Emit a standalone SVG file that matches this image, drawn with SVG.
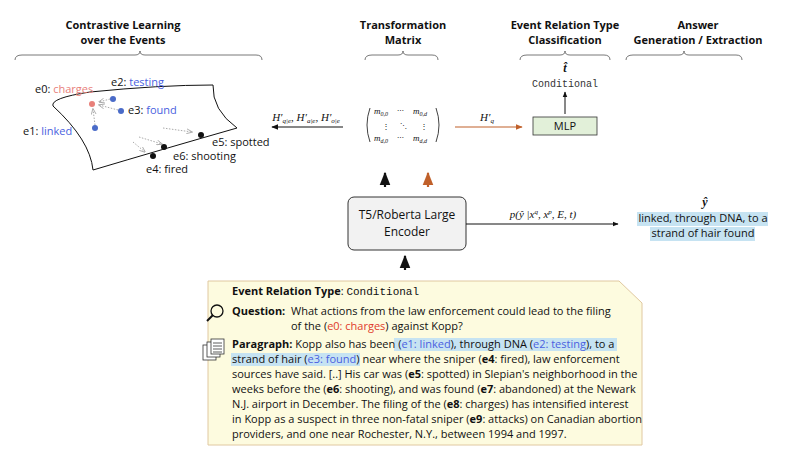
<svg xmlns="http://www.w3.org/2000/svg" width="806" height="454" viewBox="0 0 806 454">
<defs>
<style>
text{font-family:"Open Sans","Liberation Sans",sans-serif;font-size:11px;fill:#111}
.h{font-weight:bold;font-size:11px;text-anchor:middle}
.m{font-family:"Liberation Serif",serif;font-style:italic}
.mono{font-family:"Liberation Mono",monospace}
.br{fill:none;stroke:#555;stroke-width:0.8}
.blue{fill:#4a5fe0}
.red{fill:#e03a2a}
.b{font-weight:bold}
.hl{fill:#c6e3f2}
.dot{stroke:#aaa;stroke-width:1;stroke-dasharray:1.5,1.5;fill:none;marker-end:url(#ga)}
</style>
<marker id="ka" viewBox="0 0 10 10" refX="9" refY="5" markerWidth="6" markerHeight="6" orient="auto"><path d="M0,1L10,5L0,9z" fill="#111"/></marker>
<marker id="oa" viewBox="0 0 10 10" refX="9" refY="5" markerWidth="6" markerHeight="6" orient="auto"><path d="M0,1L10,5L0,9z" fill="#c0602a"/></marker>
<marker id="ga" viewBox="0 0 10 10" refX="9" refY="5" markerWidth="6" markerHeight="6" orient="auto"><path d="M0,1L10,5L0,9" fill="none" stroke="#aaa" stroke-width="1.5"/></marker>
</defs>
<rect width="806" height="454" fill="#fff"/>
<g id="headings">
<text class="h" x="123" y="29">Contrastive Learning</text>
<text class="h" x="123" y="44">over the Events</text>
<path class="br" d="M15,60 Q15,55 22,55 L135,55 Q140,55 140,51 Q140,55 145,55 L256,55 Q262,55 262,60"/>
<text class="h" x="403" y="29">Transformation</text>
<text class="h" x="403" y="44">Matrix</text>
<path class="br" d="M365,60 Q365,55 372,55 L398,55 Q403,55 403,51 Q403,55 408,55 L432,55 Q438,55 438,60"/>
<text class="h" x="565" y="29">Event Relation Type</text>
<text class="h" x="565" y="44">Classification</text>
<path class="br" d="M520,60 Q520,55 527,55 L560,55 Q565,55 565,51 Q565,55 570,55 L604,55 Q610,55 610,60"/>
<text class="h" x="698" y="29">Answer</text>
<text class="h" x="698" y="44">Generation / Extraction</text>
<path class="br" d="M626,60 Q626,55 633,55 L679,55 Q684,55 684,51 Q684,55 689,55 L736,55 Q742,55 742,60"/>
</g>
<g id="events">
<path d="M53,106 Q50,98 90,92 Q160,85 213,85 Q212,110 237,128 Q160,150 93,170 Q90,140 53,106 Z" fill="none" stroke="#111" stroke-width="1"/>
<path class="dot" d="M110,99 L99,102"/>
<path class="dot" d="M118,110 L99,105"/>
<path class="dot" d="M95,125 L93,109"/>
<path class="dot" d="M163,128 L192,132"/>
<path class="dot" d="M139,137 L162,144"/>
<path class="dot" d="M133,142 L145,152"/>
<circle cx="92" cy="104" r="3" fill="#e8807a"/>
<circle cx="113" cy="99" r="3" fill="#4a6bc8"/>
<circle cx="121" cy="111" r="3" fill="#4a6bc8"/>
<circle cx="95" cy="128" r="3" fill="#4a6bc8"/>
<circle cx="201" cy="135" r="3" fill="#111"/>
<circle cx="164" cy="147" r="3" fill="#111"/>
<circle cx="153" cy="156" r="3" fill="#111"/>
<text x="35" y="93">e0: <tspan fill="#e8807a">charges</tspan></text>
<text x="111" y="86">e2: <tspan class="blue">testing</tspan></text>
<text x="128" y="114">e3: <tspan class="blue">found</tspan></text>
<text x="23" y="135">e1: <tspan class="blue">linked</tspan></text>
<text x="212" y="146">e5: spotted</text>
<text x="173" y="160">e6: shooting</text>
<text x="146" y="173">e4: fired</text>
</g>
<g id="matrix">
<path d="M370,108 Q364,125 370,142" fill="none" stroke="#111" stroke-width="0.8"/>
<path d="M436,108 Q442,125 436,142" fill="none" stroke="#111" stroke-width="0.8"/>
<text x="374" y="114" class="m" style="font-size:9px">m<tspan style="font-size:6px" dy="2">0,0</tspan></text>
<text x="397" y="113" style="font-size:7px">⋯</text>
<text x="413" y="114" class="m" style="font-size:9px">m<tspan style="font-size:6px" dy="2">0,d</tspan></text>
<text x="382" y="129" style="font-size:8px">⋮</text>
<text x="400" y="128" style="font-size:7px">⋱</text>
<text x="420" y="129" style="font-size:8px">⋮</text>
<text x="374" y="141" class="m" style="font-size:9px">m<tspan style="font-size:6px" dy="2">d,0</tspan></text>
<text x="397" y="140" style="font-size:7px">⋯</text>
<text x="413" y="141" class="m" style="font-size:9px">m<tspan style="font-size:6px" dy="2">d,d</tspan></text>
</g>
<g id="mlp">
<rect x="533" y="117" width="64" height="18" fill="#e2f0d9" stroke="#333" stroke-width="0.8"/>
<text x="565" y="130" text-anchor="middle">MLP</text>
<text x="565" y="72" class="m b" text-anchor="middle" style="font-size:12px">t̂</text>
<text x="565" y="87" class="mono" text-anchor="middle" style="font-size:10px;fill:#333">Conditional</text>
</g>
<g id="encoder">
<rect x="348" y="197" width="118" height="53" rx="6" fill="#f2f2f2" stroke="#333" stroke-width="1"/>
<text x="407" y="219" text-anchor="middle" style="font-size:12px">T5/Roberta Large</text>
<text x="407" y="236" text-anchor="middle" style="font-size:12px">Encoder</text>
</g>
<g id="answer">
<text x="705" y="206" class="m b" text-anchor="middle" style="font-size:12px">ŷ</text>
<rect x="637" y="212" width="131" height="14" class="hl"/>
<rect x="650" y="227" width="105" height="14" class="hl"/>
<text x="703" y="222" text-anchor="middle">linked, through DNA, to a</text>
<text x="703" y="237" text-anchor="middle">strand of hair found</text>
</g>
<g id="connectors">
<path d="M343,127 L272,127" stroke="#111" stroke-width="1.2" marker-end="url(#ka)"/>
<text x="306" y="121" class="m" text-anchor="middle" style="font-size:11px">H′<tspan style="font-size:7px" dy="2">q|e</tspan><tspan dy="-2">, H′</tspan><tspan style="font-size:7px" dy="2">a|e</tspan><tspan dy="-2">, H′</tspan><tspan style="font-size:7px" dy="2">o|e</tspan></text>
<path d="M455,127 L522,127" stroke="#c0602a" stroke-width="1.2" marker-end="url(#oa)"/>
<text x="487" y="121" class="m" text-anchor="middle" style="font-size:11px">H′<tspan style="font-size:7px" dy="2">q</tspan></text>
<path d="M565,114 L565,92" stroke="#111" stroke-width="1" marker-end="url(#ka)"/>
<path d="M385,187 L385,173" stroke="#111" stroke-width="2.2" marker-end="url(#ka)"/>
<path d="M428,187 L428,173" stroke="#c0602a" stroke-width="2.2" marker-end="url(#oa)"/>
<path d="M405,270 L405,256" stroke="#111" stroke-width="2.2" marker-end="url(#ka)"/>
<path d="M466,224 L618,224" stroke="#111" stroke-width="1" marker-end="url(#ka)"/>
<text x="543" y="218" class="m" text-anchor="middle" style="font-size:11px">p(ŷ |x<tspan style="font-size:7px" dy="-4">q</tspan><tspan dy="4">, x</tspan><tspan style="font-size:7px" dy="-4">p</tspan><tspan dy="4">, E, t)</tspan></text>
</g>
<g id="input">
<path d="M208,281 L619,281 L642,303 L642,445 L208,445 Z" fill="#fdfbdf" stroke="#e0c8a0" stroke-width="1"/>
<text x="232" y="295"><tspan class="b">Event Relation Type</tspan>: <tspan class="mono">Conditional</tspan></text>
<circle cx="217" cy="311" r="6" fill="none" stroke="#111" stroke-width="1.3"/>
<path d="M213,315 L207,321" stroke="#111" stroke-width="2"/>
<text x="232" y="315" class="b">Question:</text>
<text x="291" y="315">What actions from the law enforcement could lead to the filing</text>
<text x="291" y="330">of the (<tspan class="red">e0: charges</tspan>) against Kopp?</text>
<g fill="#fff" stroke="#333" stroke-width="0.8">
<rect x="203" y="345" width="13" height="15"/>
<rect x="207" y="342" width="13" height="15"/>
<rect x="211" y="339" width="13" height="15"/>
<path d="M213,343h9M213,346h9M213,349h9M213,352h9"/>
</g>
<rect x="394" y="338" width="223" height="13" class="hl"/>
<rect x="231" y="353" width="129" height="13" class="hl"/>
<text x="232" y="348"><tspan class="b">Paragraph:</tspan> Kopp also has been (<tspan class="blue">e1: linked</tspan>), through DNA (<tspan class="blue">e2: testing</tspan>), to a</text>
<text x="232" y="363">strand of hair (<tspan class="blue">e3: found</tspan>) near where the sniper (<tspan class="b">e4</tspan>: fired), law enforcement</text>
<text x="232" y="378">sources have said. [..] His car was (<tspan class="b">e5</tspan>: spotted) in Slepian's neighborhood in the</text>
<text x="232" y="393">weeks before the (<tspan class="b">e6</tspan>: shooting), and was found (<tspan class="b">e7</tspan>: abandoned) at the Newark</text>
<text x="232" y="408">N.J. airport in December. The filing of the (<tspan class="b">e8</tspan>: charges) has intensified interest</text>
<text x="232" y="423">in Kopp as a suspect in three non-fatal sniper (<tspan class="b">e9</tspan>: attacks) on Canadian abortion</text>
<text x="232" y="438">providers, and one near Rochester, N.Y., between 1994 and 1997.</text>
</g>
</svg>
